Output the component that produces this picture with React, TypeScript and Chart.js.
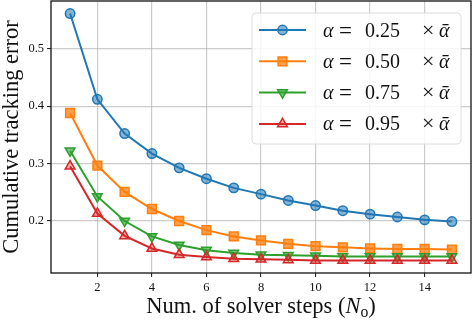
import React, { useEffect, useRef } from 'react';
import { Chart, registerables } from 'chart.js';

Chart.register(...registerables);

const steps = [1, 2, 3, 4, 5, 6, 7, 8, 9, 10, 11, 12, 13, 14, 15];
const alpha025 = [0.562, 0.412, 0.352, 0.317, 0.292, 0.273, 0.257, 0.246, 0.235, 0.226, 0.217, 0.211, 0.206, 0.201, 0.198];
const alpha050 = [0.388, 0.296, 0.25, 0.22, 0.199, 0.183, 0.172, 0.165, 0.159, 0.155, 0.153, 0.151, 0.15, 0.15, 0.149];
const alpha075 = [0.322, 0.242, 0.199, 0.172, 0.157, 0.148, 0.143, 0.14, 0.139, 0.138, 0.137, 0.137, 0.137, 0.137, 0.137];
const alpha095 = [0.295, 0.212, 0.173, 0.151, 0.14, 0.136, 0.133, 0.132, 0.131, 0.13, 0.13, 0.13, 0.13, 0.13, 0.13];
const alphaValues = ['0.25', '0.50', '0.75', '0.95'];
const xTicks = [2, 4, 6, 8, 10, 12, 14];
const yTicks = [0.2, 0.3, 0.4, 0.5];
const xTitlePrefix = 'Num. of solver steps (';
const yTitle = 'Cumulative tracking error';

const FAM = "'Liberation Serif','DejaVu Serif',serif";

type Series = { values: number[]; color: string; fill: string; style: string; rotation: number; radius: number };
const seriesList: Series[] = [
  { values: alpha025, color: '#1f77b4', fill: 'rgba(31,119,180,0.55)', style: 'circle', rotation: 0, radius: 4.7 },
  { values: alpha050, color: '#ff7f0e', fill: 'rgba(255,127,14,0.75)', style: 'rect', rotation: 0, radius: 6.2 },
  { values: alpha075, color: '#2ca02c', fill: 'rgba(44,160,44,0.6)', style: 'triangle', rotation: 180, radius: 5.6 },
  { values: alpha095, color: '#d62728', fill: 'rgba(214,39,40,0.35)', style: 'triangle', rotation: 0, radius: 5.6 },
];

function drawMarker(ctx: CanvasRenderingContext2D, s: Series, x: number, y: number) {
  ctx.save();
  ctx.fillStyle = s.fill;
  ctx.strokeStyle = s.color;
  ctx.lineWidth = 1.5;
  ctx.beginPath();
  const r = s.radius;
  if (s.style === 'circle') {
    ctx.arc(x, y, r, 0, Math.PI * 2);
  } else if (s.style === 'rect') {
    const h = r * Math.SQRT1_2;
    ctx.rect(x - h, y - h, 2 * h, 2 * h);
  } else {
    let a = (s.rotation * Math.PI) / 180;
    for (let i = 0; i < 3; i++) {
      const px = x + Math.sin(a) * r;
      const py = y - Math.cos(a) * r;
      if (i === 0) ctx.moveTo(px, py);
      else ctx.lineTo(px, py);
      a += (2 * Math.PI) / 3;
    }
    ctx.closePath();
  }
  ctx.fill();
  ctx.stroke();
  ctx.restore();
}

const framePlugin = {
  id: 'frame',
  afterDatasetsDraw(chart: any) {
    const { ctx, chartArea } = chart;
    ctx.save();
    ctx.strokeStyle = '#111';
    ctx.lineWidth = 1.3;
    ctx.strokeRect(chartArea.left, chartArea.top, chartArea.right - chartArea.left, chartArea.bottom - chartArea.top);
    ctx.restore();
  },
};

const titlesPlugin = {
  id: 'titles',
  afterDraw(chart: any) {
    const { ctx, chartArea } = chart;
    ctx.save();
    ctx.fillStyle = '#111';
    ctx.textBaseline = 'alphabetic';
    ctx.textAlign = 'left';
    const size = 22.5;
    const parts = [
      { t: xTitlePrefix, f: `${size}px ${FAM}`, dy: 0, w: 0 },
      { t: 'N', f: `italic ${size}px ${FAM}`, dy: 0, w: 0 },
      { t: 'o', f: `${size * 0.7}px ${FAM}`, dy: 4, w: 0 },
      { t: ')', f: `${size}px ${FAM}`, dy: 0, w: 0 },
    ];
    let total = 0;
    parts.forEach((p) => {
      ctx.font = p.f;
      p.w = ctx.measureText(p.t).width;
      total += p.w;
    });
    let x = (chartArea.left + chartArea.right) / 2 - total / 2;
    const base = chartArea.bottom + 39.5;
    parts.forEach((p) => {
      ctx.font = p.f;
      ctx.fillText(p.t, x, base + p.dy);
      x += p.w;
    });

    ctx.translate(18, (chartArea.top + chartArea.bottom) / 2);
    ctx.rotate(-Math.PI / 2);
    ctx.textAlign = 'center';
    ctx.font = `${size}px ${FAM}`;
    ctx.fillText(yTitle, 0, 0);
    ctx.restore();
  },
};

const legendPlugin = {
  id: 'customLegend',
  afterDraw(chart: any) {
    const { ctx, chartArea } = chart;
    ctx.save();
    const bw = 209;
    const bh = 131;
    const bx = chartArea.right - 10 - bw;
    const by = chartArea.top + 12;
    const r = 4;
    ctx.beginPath();
    ctx.moveTo(bx + r, by);
    ctx.lineTo(bx + bw - r, by);
    ctx.arcTo(bx + bw, by, bx + bw, by + r, r);
    ctx.lineTo(bx + bw, by + bh - r);
    ctx.arcTo(bx + bw, by + bh, bx + bw - r, by + bh, r);
    ctx.lineTo(bx + r, by + bh);
    ctx.arcTo(bx, by + bh, bx, by + bh - r, r);
    ctx.lineTo(bx, by + r);
    ctx.arcTo(bx, by, bx + r, by, r);
    ctx.closePath();
    ctx.fillStyle = 'rgba(255,255,255,0.85)';
    ctx.fill();
    ctx.strokeStyle = '#dcdcdc';
    ctx.lineWidth = 1;
    ctx.stroke();

    const fs = 20;
    seriesList.forEach((s, i) => {
      const cy = by + 17 + i * 31.3;
      ctx.strokeStyle = s.color;
      ctx.lineWidth = 2;
      ctx.beginPath();
      ctx.moveTo(bx + 7, cy);
      ctx.lineTo(bx + 54, cy);
      ctx.stroke();
      drawMarker(ctx, s, bx + 30.5, cy);

      const x0 = bx + 71;
      const base = cy + 6.5;
      ctx.fillStyle = '#111';
      ctx.textAlign = 'left';
      ctx.textBaseline = 'alphabetic';
      ctx.font = `italic ${fs}px ${FAM}`;
      ctx.fillText('α', x0, base);
      ctx.font = `${fs + 3}px ${FAM}`;
      ctx.fillText('=', x0 + 16, base + 1);
      ctx.font = `${fs}px ${FAM}`;
      ctx.fillText(alphaValues[i], x0 + 42, base);
      ctx.font = `${fs + 2}px ${FAM}`;
      ctx.fillText('×', x0 + 99, base);
      ctx.font = `italic ${fs}px ${FAM}`;
      ctx.fillText('ᾱ', x0 + 116, base);
    });
    ctx.restore();
  },
};

export default function App() {
  const ref = useRef<HTMLCanvasElement | null>(null);
  useEffect(() => {
    if (!ref.current) return;
    const tickFont = { family: FAM, size: 12.5 };
    const gridOpts = {
      color: 'rgba(176,176,176,0.65)',
      lineWidth: 1.2,
      drawTicks: true,
      tickLength: 4,
      tickColor: '#111',
      tickWidth: 1,
    };
    const chart = new Chart(ref.current, {
      type: 'line',
      data: {
        datasets: seriesList.map((s, i) => ({
          label: `α = ${alphaValues[i]} × ᾱ`,
          data: steps.map((x, j) => ({ x, y: s.values[j] })),
          borderColor: s.color,
          backgroundColor: s.fill,
          borderWidth: 2,
          pointStyle: s.style as any,
          pointRotation: s.rotation,
          pointRadius: s.radius,
          pointBackgroundColor: s.fill,
          pointBorderColor: s.color,
          pointBorderWidth: 1.5,
          tension: 0,
          fill: false,
          order: seriesList.length - i,
        })),
      },
      options: {
        responsive: false,
        animation: false,
        devicePixelRatio: 1,
        layout: { autoPadding: false, padding: { top: 1, right: 3, left: 0, bottom: 0 } },
        plugins: { legend: { display: false }, tooltip: { enabled: false } },
        scales: {
          x: {
            type: 'linear',
            min: 0.3,
            max: 15.7,
            afterBuildTicks: (s: any) => {
              s.ticks = xTicks.map((v) => ({ value: v }));
            },
            afterFit: (s: any) => {
              s.height = 47;
              s.paddingLeft = 0;
              s.paddingRight = 0;
            },
            grid: gridOpts,
            border: { display: false },
            ticks: {
              font: tickFont,
              color: '#111',
              padding: 3,
              maxRotation: 0,
              autoSkip: false,
              callback: (v: any) => String(v),
            },
          },
          y: {
            type: 'linear',
            min: 0.108,
            max: 0.584,
            afterBuildTicks: (s: any) => {
              s.ticks = yTicks.map((v) => ({ value: v }));
            },
            afterFit: (s: any) => {
              s.width = 51;
              s.paddingTop = 0;
              s.paddingBottom = 0;
            },
            grid: gridOpts,
            border: { display: false },
            ticks: {
              font: tickFont,
              color: '#111',
              padding: 3,
              autoSkip: false,
              callback: (v: any) => Number(v).toFixed(1),
            },
          },
        },
      },
      plugins: [framePlugin, titlesPlugin, legendPlugin],
    });
    return () => chart.destroy();
  }, []);
  return (
    <div style={{ position: 'absolute', left: 0, top: 0, width: 474, height: 320, background: '#fff' }}>
      <canvas ref={ref} width={474} height={320} style={{ display: 'block' }} />
    </div>
  );
}
